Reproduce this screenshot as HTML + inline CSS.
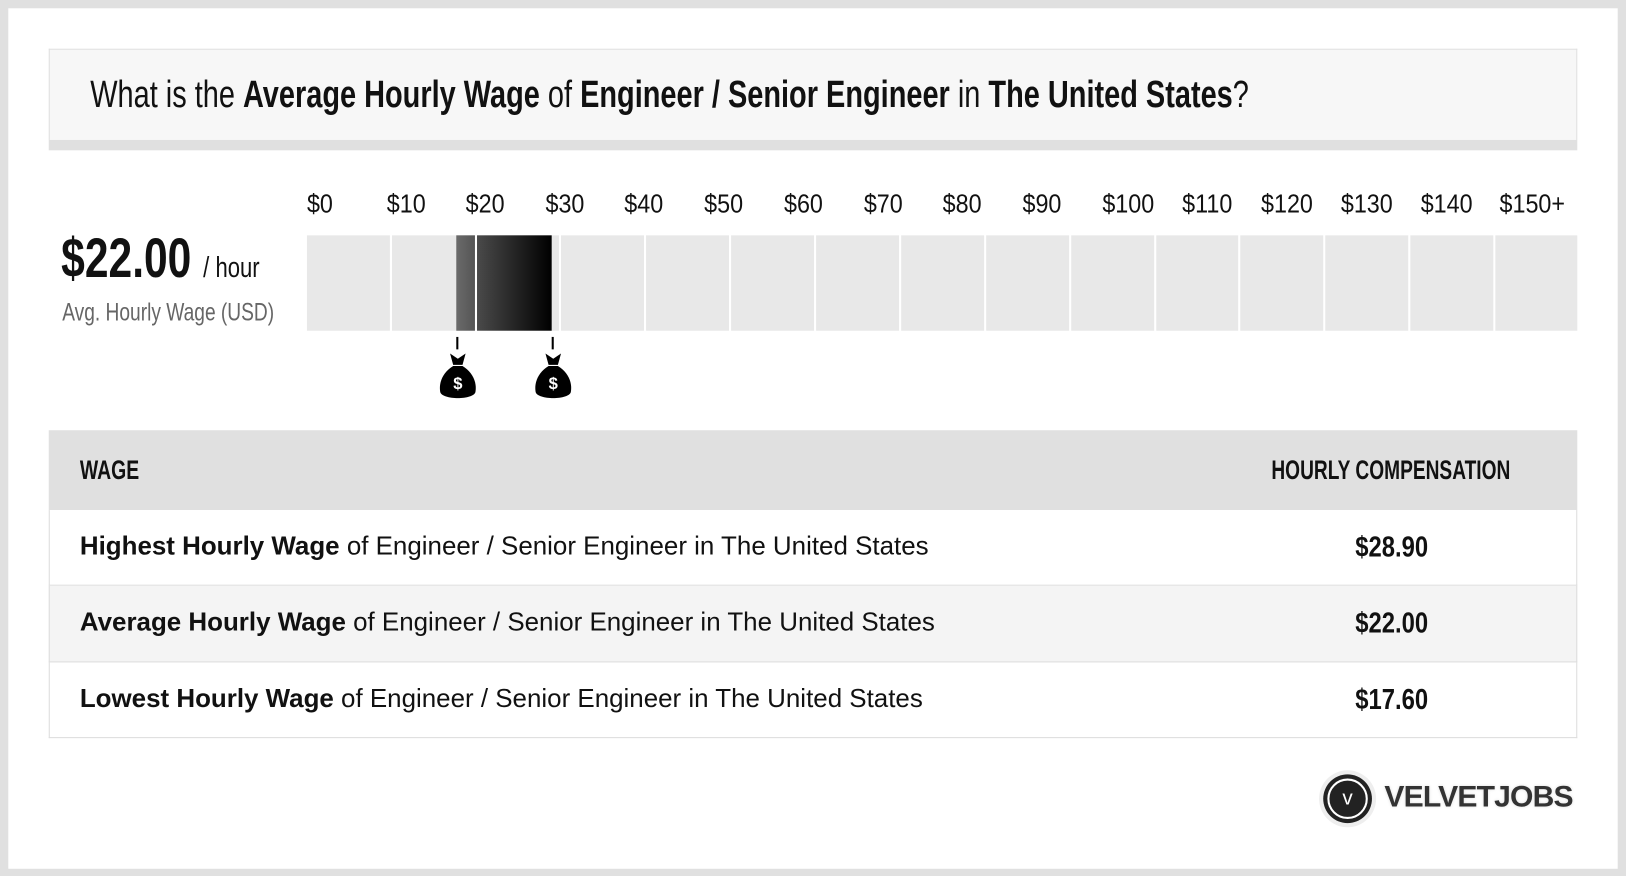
<!DOCTYPE html>
<html><head><meta charset="utf-8"><style>
html,body{margin:0;padding:0;width:1626px;height:876px;overflow:hidden;background:#fff}
#w{position:absolute;left:0;top:0;width:1568px;height:845px;transform:scale(1.0370,1.0367);transform-origin:0 0;background:#e0e0e0;font-family:"Liberation Sans Narrow","Liberation Sans",sans-serif;color:#111}
.a{position:absolute}
.n{font-family:"Liberation Sans Narrow","Liberation Sans",sans-serif}
.lab{position:absolute;top:183px;font-size:25px;transform:scaleX(.9);transform-origin:0 0;white-space:nowrap}
.cell{position:absolute;top:227px;height:92px;background:#e8e8e8}
.row{position:absolute;left:47px;width:1472px;height:72px;border:1px solid #ddd;border-top:none}
.rt{position:absolute;left:29px;top:21px;font-family:"Liberation Sans",sans-serif;font-size:25px;white-space:nowrap}
.rv{position:absolute;left:1240px;width:108px;text-align:center;top:20px;font-size:28px;font-weight:bold}
</style></head><body><div id="w">
<div class="a" style="left:8px;top:8px;width:1552px;height:830px;background:#fff"></div>
<div class="a" style="left:47px;top:47px;width:1472px;height:87px;background:#f7f7f7;border:1px solid #e0e0e0;border-bottom:none"></div>
<div class="a" style="left:47px;top:135px;width:1474px;height:10px;background:#e0e0e0"></div>
<div class="a n" style="left:87px;top:70px;font-size:37px;white-space:nowrap;transform:scaleX(.754);transform-origin:0 0">What is the <b>Average Hourly Wage</b> of <b>Engineer / Senior Engineer</b> in <b>The United States</b>?</div>

<div class="a n" style="left:59px;top:218px;font-size:54px;font-weight:bold;white-space:nowrap;transform:scaleX(.76);transform-origin:0 0">$22.00 <span style="font-size:28px;font-weight:normal">/ hour</span></div>
<div class="a n" style="left:60px;top:288px;font-size:24px;color:#666;white-space:nowrap;transform:scaleX(.77);transform-origin:0 0">Avg. Hourly Wage (USD)</div>

<div class="lab" style="left:296px">$0</div><div class="lab" style="left:373px">$10</div><div class="lab" style="left:449px">$20</div><div class="lab" style="left:526px">$30</div><div class="lab" style="left:602px">$40</div><div class="lab" style="left:679px">$50</div><div class="lab" style="left:756px">$60</div><div class="lab" style="left:833px">$70</div><div class="lab" style="left:909px">$80</div><div class="lab" style="left:986px">$90</div><div class="lab" style="left:1063px">$100</div><div class="lab" style="left:1140px">$110</div><div class="lab" style="left:1216px">$120</div><div class="lab" style="left:1293px">$130</div><div class="lab" style="left:1370px">$140</div><div class="lab" style="left:1446px">$150+</div>

<div class="cell" style="left:296px;width:80px"></div><div class="cell" style="left:378px;width:80px"></div><div class="cell" style="left:460px;width:79px"></div><div class="cell" style="left:541px;width:80px"></div><div class="cell" style="left:623px;width:80px"></div><div class="cell" style="left:705px;width:80px"></div><div class="cell" style="left:787px;width:80px"></div><div class="cell" style="left:869px;width:80px"></div><div class="cell" style="left:951px;width:80px"></div><div class="cell" style="left:1033px;width:80px"></div><div class="cell" style="left:1115px;width:79px"></div><div class="cell" style="left:1196px;width:80px"></div><div class="cell" style="left:1278px;width:80px"></div><div class="cell" style="left:1360px;width:80px"></div><div class="cell" style="left:1442px;width:79px"></div>
<div class="a" style="left:440px;top:227px;width:18px;height:92px;background:linear-gradient(90deg,#6a6a6a,#555)"></div>
<div class="a" style="left:460px;top:227px;width:72px;height:92px;background:linear-gradient(90deg,#4a4a4a,#000)"></div>

<div class="a" style="left:440px;top:325px;width:2px;height:12px;background:#000"></div>
<div class="a" style="left:532px;top:325px;width:2px;height:12px;background:#000"></div>
<svg class="a" style="left:423px;top:341px" width="37" height="45" viewBox="0 0 37 45"><path d="M11 0 L18.5 5 L26 0 L23 11 L14 11 Z" fill="#000"/><path d="M14 12 C4 18 0 28 1.5 37 C3 45 34 45 35.5 37 C37 28 33 18 23 12 Z" fill="#000"/><text x="18.5" y="34" text-anchor="middle" font-family="Liberation Sans" font-weight="bold" font-size="16" fill="#fff">$</text></svg>
<svg class="a" style="left:515px;top:341px" width="37" height="45" viewBox="0 0 37 45"><path d="M11 0 L18.5 5 L26 0 L23 11 L14 11 Z" fill="#000"/><path d="M14 12 C4 18 0 28 1.5 37 C3 45 34 45 35.5 37 C37 28 33 18 23 12 Z" fill="#000"/><text x="18.5" y="34" text-anchor="middle" font-family="Liberation Sans" font-weight="bold" font-size="16" fill="#fff">$</text></svg>

<div class="a" style="left:47px;top:415px;width:1474px;height:77px;background:#e0e0e0"></div>
<div class="a n" style="left:77px;top:438px;font-size:26px;font-weight:bold;transform:scaleX(.72);transform-origin:0 0">WAGE</div>
<div class="a n" style="left:1226px;top:438px;font-size:26px;font-weight:bold;white-space:nowrap;transform:scaleX(.71);transform-origin:0 0">HOURLY COMPENSATION</div>

<div class="row" style="top:492px;background:#fff"><div class="rt"><b>Highest Hourly Wage</b> of Engineer / Senior Engineer in The United States</div><div class="rv n" style="transform:scaleX(.82)">$28.90</div></div>
<div class="row" style="top:565px;height:73px;background:#f4f4f4"><div class="rt"><b>Average Hourly Wage</b> of Engineer / Senior Engineer in The United States</div><div class="rv n" style="transform:scaleX(.82)">$22.00</div></div>
<div class="row" style="top:639px;background:#fff"><div class="rt"><b>Lowest Hourly Wage</b> of Engineer / Senior Engineer in The United States</div><div class="rv n" style="transform:scaleX(.82)">$17.60</div></div>

<div class="a" style="left:1272px;top:743px;width:55px;height:55px;border-radius:50%;background:#eee"></div>
<div class="a" style="left:1276px;top:747px;width:47px;height:47px;border-radius:50%;background:#222"></div>
<div class="a" style="left:1280px;top:751px;width:39px;height:39px;border-radius:50%;border:2px solid #fff;box-sizing:border-box;color:#fff;font-family:'Liberation Sans',sans-serif;font-size:20px;text-align:center;line-height:34px">v</div>
<div class="a" style="left:1335px;top:753px;font-family:'Liberation Sans',sans-serif;font-weight:bold;font-size:29px;color:#333;letter-spacing:-0.8px;text-shadow:0 0 3px #ddd">VELVETJOBS</div>
</div></body></html>
